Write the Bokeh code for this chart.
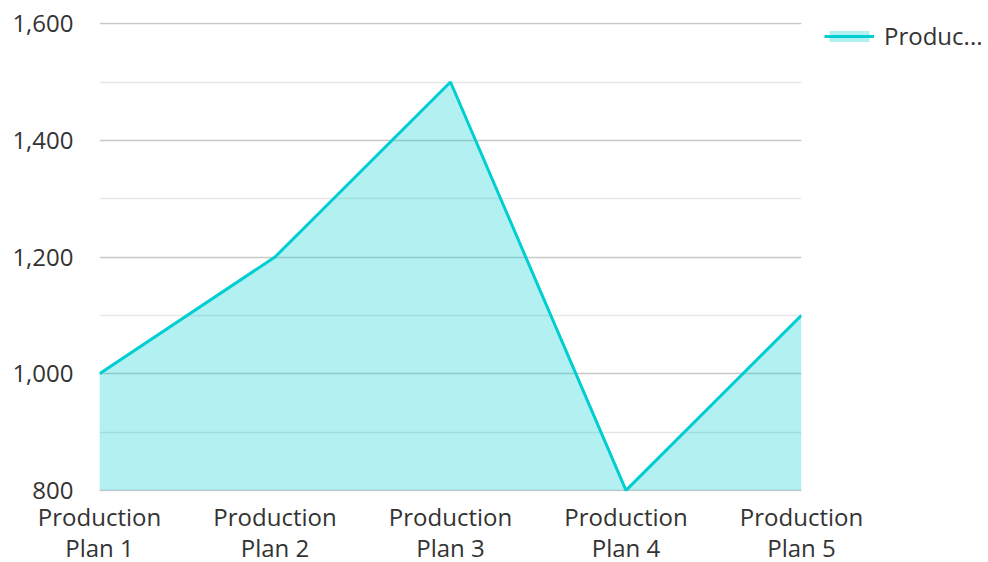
from bokeh.plotting import figure
from bokeh.models import Range1d, FixedTicker, Legend, LegendItem, NumeralTickFormatter
from bokeh.embed import file_html
from bokeh.resources import INLINE

categories = ["Production\nPlan 1", "Production\nPlan 2", "Production\nPlan 3", "Production\nPlan 4", "Production\nPlan 5"]
values = [1000, 1200, 1500, 800, 1100]
series_name = "Produc..."
y_ticks = [800, 1000, 1200, 1400, 1600]
y_minor = [900, 1100, 1300, 1500]

xs = list(range(len(categories)))
teal = "#00CED1"
font = "Open Sans"

p = figure(frame_width=702, frame_height=469, output_backend="svg", toolbar_location=None,
           x_range=Range1d(0, len(categories) - 1), y_range=Range1d(798, 1602),
           min_border_left=99, min_border_right=186, min_border_top=22, min_border_bottom=66)
p.outline_line_color = None

area = p.varea(x=xs, y1=[800] * len(xs), y2=values, fill_color=teal, fill_alpha=0.3)
line = p.line(x=xs, y=values, line_color=teal, line_width=3)

p.xaxis.ticker = FixedTicker(ticks=xs)
p.xaxis.major_label_overrides = {i: c for i, c in enumerate(categories)}
p.yaxis.ticker = FixedTicker(ticks=y_ticks, minor_ticks=y_minor)
p.yaxis.formatter = NumeralTickFormatter(format="0,0")

for ax in (p.xaxis[0], p.yaxis[0]):
    ax.axis_line_color = None
    ax.major_tick_line_color = None
    ax.minor_tick_line_color = None
    ax.major_label_text_font = font
    ax.major_label_text_font_size = "24px"
    ax.major_label_text_color = "#333333"
    ax.major_label_text_line_height = 0.95
p.yaxis.major_label_standoff = 20
p.xaxis.major_label_standoff = 2

p.xgrid.grid_line_color = None
p.ygrid.grid_line_color = "#c8c8c8"
p.ygrid.grid_line_width = 1.5
p.ygrid.minor_grid_line_color = "#e6e6e6"
p.ygrid.minor_grid_line_width = 1.5

legend = Legend(items=[LegendItem(label=series_name, renderers=[area, line])],
                location=(23, 439), border_line_color=None, background_fill_alpha=0,
                label_text_font=font, label_text_font_size="24px", label_text_color="#333333",
                glyph_width=50, glyph_height=14, label_standoff=10, margin=0, padding=0,
                label_height=14)
p.add_layout(legend, "right")

open("out.html", "w").write(file_html(p, INLINE))
